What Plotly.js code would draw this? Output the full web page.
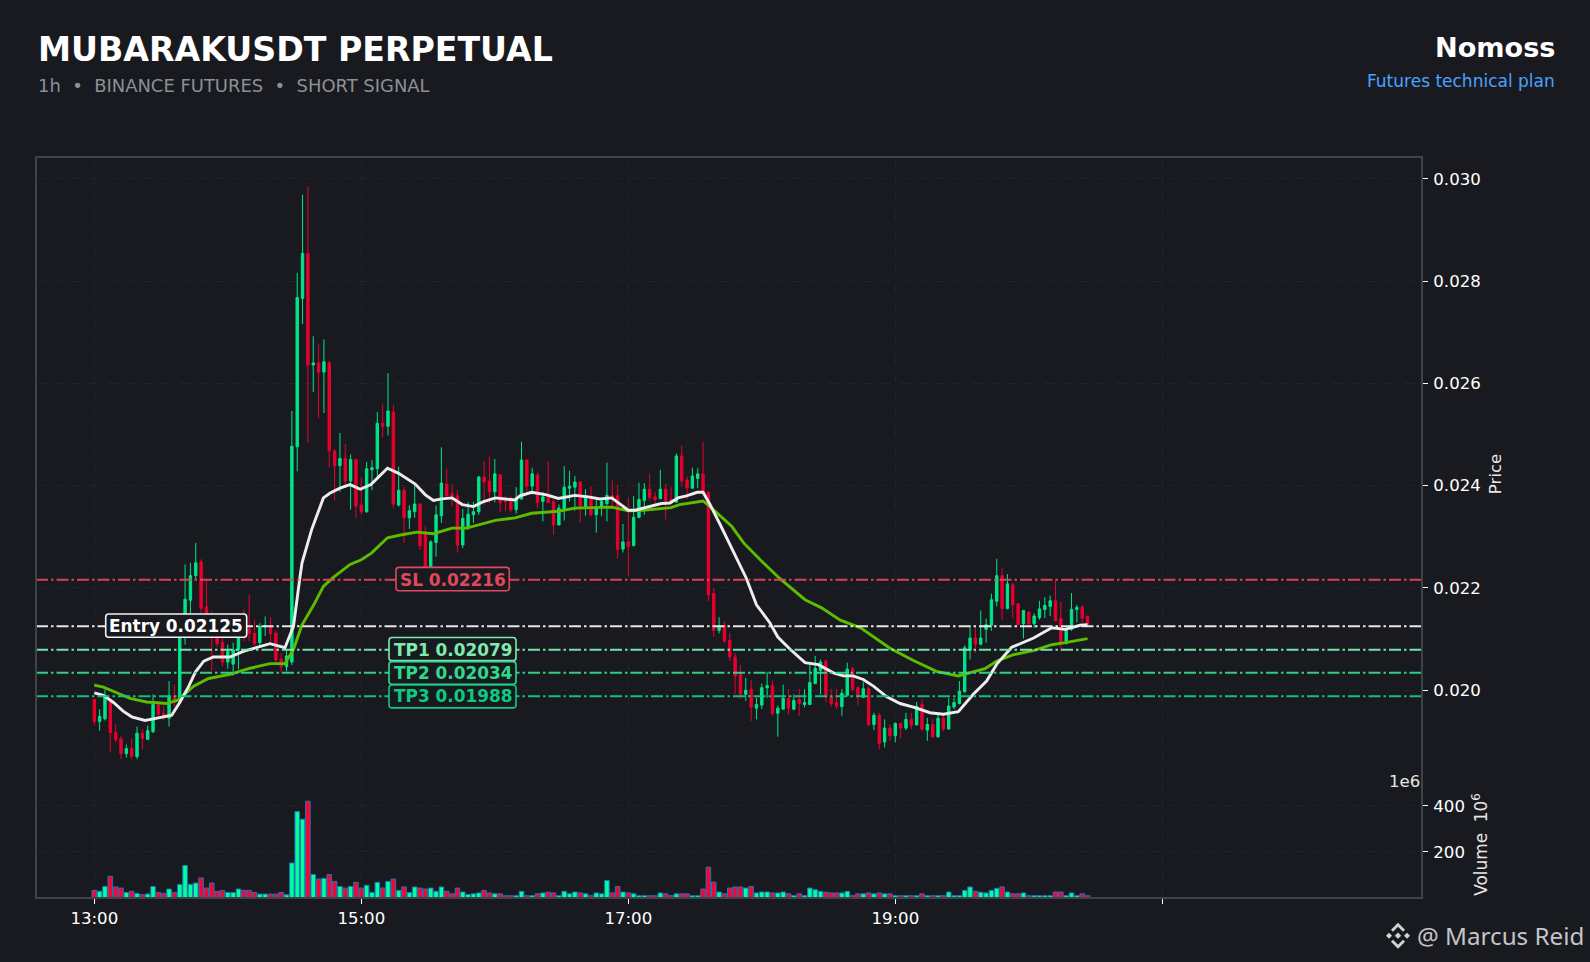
<!DOCTYPE html>
<html><head><meta charset="utf-8">
<script src="https://cdn.plot.ly/plotly-3.0.1.min.js"></script>
<style>html,body{margin:0;padding:0;background:#181A20}#c{width:1590px;height:962px}</style>
</head><body><div id="c"></div>
<script>
// prices in units of 1e-5 USDT, one value per bar
const open_=[1982,1939,1944,1980,1917,1905,1876,1886,1870,1916,1904,1919,1971,1955,1945,1989,1986,2112,2176,2224,2251,2163,2147,2108,2094,2055,2051,2079,2113,2120,2111,2093,2124,2124,2112,2061,2046,2055,2476,2766,2854,2636,2640,2622,2640,2468,2439,2453,2409,2451,2362,2349,2431,2433,2522,2516,2544,2362,2391,2337,2349,2364,2304,2238,2289,2341,2403,2384,2380,2284,2318,2343,2349,2417,2409,2388,2421,2372,2370,2353,2374,2450,2399,2421,2369,2378,2369,2323,2354,2395,2397,2407,2358,2378,2343,2358,2365,2380,2380,2276,2290,2283,2338,2371,2393,2378,2375,2393,2373,2368,2458,2411,2395,2414,2423,2387,2189,2117,2127,2097,2065,2031,1992,2002,1965,1971,2005,2009,1955,1963,1984,1963,1982,1972,1972,2013,2039,2056,1987,1976,1968,1990,2042,2005,1986,2003,1933,1951,1899,1926,1911,1935,1926,1943,1932,1972,1922,1933,1909,1945,1924,1967,1974,1997,2078,2102,2090,2119,2127,2174,2224,2160,2206,2169,2130,2153,2130,2142,2158,2164,2175,2140,2091,2119,2158,2162,2145];
const high=[1982,1963,2001,1985,1934,1911,1894,1906,1929,1924,1931,1992,1976,1970,2018,2011,2127,2246,2249,2288,2256,2216,2154,2118,2103,2089,2093,2118,2158,2186,2138,2131,2144,2143,2116,2073,2079,2546,2816,2969,2985,2692,2676,2686,2644,2471,2503,2481,2461,2452,2417,2446,2450,2544,2559,2620,2558,2437,2397,2362,2401,2366,2321,2293,2361,2475,2433,2403,2391,2354,2368,2368,2418,2448,2457,2452,2423,2379,2379,2397,2486,2452,2435,2426,2388,2448,2373,2363,2438,2429,2419,2409,2393,2399,2374,2376,2445,2410,2401,2325,2378,2380,2406,2405,2423,2388,2431,2403,2397,2463,2478,2418,2435,2434,2486,2389,2200,2143,2134,2112,2073,2049,2024,2020,1985,2013,2036,2019,1970,2011,2002,1992,2002,2002,2050,2067,2060,2060,2003,2002,2002,2054,2046,2008,2016,2008,1956,1956,1943,1933,1937,1937,1956,1956,1977,1982,1946,1943,1956,1956,1985,1985,2018,2088,2127,2124,2156,2140,2189,2257,2239,2227,2210,2169,2156,2154,2150,2175,2182,2185,2215,2173,2122,2190,2167,2167,2145];
const low=[1931,1921,1941,1879,1898,1865,1868,1865,1865,1884,1904,1916,1947,1941,1929,1968,1980,2089,2151,2216,2125,2113,2038,2085,2046,2042,2028,2041,2096,2096,2086,2086,2106,2093,2054,2033,2037,2049,2428,2716,2484,2583,2532,2542,2436,2371,2388,2401,2353,2336,2343,2347,2391,2411,2494,2498,2356,2359,2288,2315,2337,2274,2226,2231,2261,2327,2376,2360,2269,2278,2314,2327,2343,2362,2366,2367,2349,2350,2349,2345,2372,2388,2383,2356,2330,2366,2304,2323,2332,2369,2351,2328,2341,2340,2308,2341,2330,2358,2258,2269,2224,2281,2336,2343,2371,2363,2373,2334,2363,2366,2398,2373,2395,2395,2383,2174,2104,2111,2093,2057,1992,1983,1979,1940,1943,1963,1985,1950,1909,1963,1953,1961,1950,1966,1971,2013,1992,1977,1968,1963,1950,1990,1998,1970,1986,1931,1922,1885,1888,1901,1898,1906,1922,1924,1932,1920,1901,1907,1907,1920,1924,1963,1972,1995,2060,2073,2088,2093,2116,2164,2137,2158,2141,2127,2101,2122,2122,2138,2141,2145,2135,2076,2090,2116,2133,2132,2124];
const close_=[1939,1949,1989,1917,1904,1876,1886,1871,1916,1906,1921,1972,1953,1947,1989,1976,2118,2178,2224,2249,2160,2147,2108,2091,2055,2076,2079,2106,2108,2111,2091,2125,2126,2111,2059,2046,2067,2477,2768,2854,2636,2640,2622,2642,2468,2439,2453,2409,2451,2360,2349,2433,2435,2522,2516,2546,2364,2391,2337,2351,2364,2282,2232,2290,2343,2405,2380,2379,2284,2336,2344,2349,2417,2407,2388,2423,2367,2369,2353,2376,2450,2399,2423,2367,2378,2367,2323,2356,2397,2399,2407,2358,2378,2343,2358,2369,2381,2373,2275,2290,2281,2338,2373,2393,2377,2373,2393,2371,2366,2458,2409,2396,2419,2423,2386,2186,2117,2125,2096,2065,2028,1992,2000,1967,1972,2005,2009,1955,1965,1984,1965,1980,1974,1976,2015,2043,2055,1987,1974,1969,1994,2041,2002,1989,2003,1932,1951,1896,1926,1911,1935,1926,1943,1932,1969,1924,1933,1909,1945,1924,1969,1976,1998,2083,2102,2090,2102,2128,2177,2224,2160,2208,2167,2128,2156,2130,2145,2159,2166,2175,2136,2093,2119,2158,2162,2141,2128];
// traded volume, millions
const volume=[33,29,50,94,48,43,24,29,20,14,17,50,24,20,39,24,59,141,59,65,87,43,65,29,33,24,24,39,33,33,24,17,17,17,17,24,14,152,375,342,420,102,82,85,102,72,50,43,50,68,43,55,24,68,43,72,82,33,48,24,48,43,39,43,29,48,29,18,43,26,15,18,22,33,22,18,18,10,10,10,29,10,10,18,22,25,22,10,29,18,26,22,18,10,22,18,76,22,50,26,22,18,10,10,10,10,22,18,10,18,18,18,10,10,39,134,69,26,18,43,48,48,43,50,22,26,26,22,22,26,18,10,18,10,43,36,29,25,22,22,22,29,10,18,18,22,18,22,18,18,10,10,10,10,10,18,10,10,10,10,26,10,10,33,48,29,25,22,33,42,48,26,18,18,22,10,10,10,10,10,26,26,10,22,10,18,10];
// moving averages read at nodes: bar position, price (1e-5)
const whiteX=[0,1.7,3.6,5.4,7,9.5,12,14.5,16,17.7,18.9,20.5,22.3,25.4,27.9,30.4,32.9,35.7,37.3,38.5,38.9,40.7,42.9,44.1,46,47.9,49.8,51.8,54.9,57,60.1,62,63.5,65.1,67,68.9,71,72.9,75.1,78.8,79.7,81.9,84.7,86.9,90,92.5,94.7,96.9,100,101.3,104,106.2,107.8,109.3,110.9,112.9,114,115.3,117.2,119.4,122.1,124,126.5,128,130.3,133.1,135.6,138.4,140.3,142.1,144,145.9,148.4,150.9,153.4,156.5,159,161.8,164.6,167.1,169,171.8,175.9,179.3,181.8,184.6,186];
const whiteY=[1995,1990,1976,1959,1948,1941,1946,1951,1976,2008,2035,2057,2065,2065,2076,2083,2091,2083,2125,2220,2249,2314,2376,2385,2395,2402,2393,2402,2434,2424,2403,2382,2371,2374,2376,2363,2359,2369,2376,2372,2380,2387,2382,2375,2381,2378,2374,2376,2352,2352,2359,2365,2366,2376,2380,2387,2387,2363,2324,2278,2219,2167,2132,2104,2080,2054,2050,2034,2028,2028,2021,2008,1987,1974,1967,1956,1953,1958,1992,2018,2051,2084,2102,2122,2119,2127,2128];
const greenX=[0,1.7,4.2,6.7,9.8,13.6,15.7,18.6,21.4,25.4,29.2,32.9,35.7,37.3,38.9,41.1,42.9,44.7,47.9,50,51.9,54.9,57.6,60.4,63.5,67,69.7,75.1,78.8,81.9,86.9,90,96.9,100,102.8,108,109.6,114,115.3,119.4,121.6,124.7,128.4,133.1,136.2,139.7,143.5,146.2,149,153.4,157.7,161.8,164,166.8,169,172,176,179.3,181.8,186];
const greenY=[2010,2006,1995,1984,1977,1974,1981,2008,2023,2031,2043,2052,2052,2080,2128,2167,2203,2220,2246,2255,2268,2298,2304,2309,2306,2317,2317,2332,2337,2346,2350,2356,2358,2351,2352,2357,2363,2370,2359,2320,2288,2255,2218,2177,2161,2137,2122,2102,2082,2058,2037,2028,2034,2042,2057,2069,2078,2089,2093,2101];
const levelNames=['SL','Entry','TP1','TP2','TP3'];
const levelPrices=[0.02216,0.02125,0.02079,0.02034,0.01988];
const levelColors=['#E0485C','#F2F2F2','#7DEBAE','#2FD98C','#10C981'];
const tickBars=[0,50,100,150,200];
const tickLabels=['13:00','15:00','17:00','19:00','\u00A0'];

const BG='#181A20', UP='#00E588', DOWN='#E8002D', UPV='#00FF9D', DOWNV='#FF0033';
const L=36,R=1422,T=156.5,B=898.3;
const px=x=>(x-L)/(R-L), py=y=>(B-y)/(B-T);
const split=py(781);
const bars=open_.map((_,i)=>i);
const toPrice=a=>a.map(v=>v/1e5);
const FONT='"DejaVu Sans", sans-serif';
const Y20=690.3, PERPX=1.953;

const traces=[
 {type:'candlestick',x:bars,open:toPrice(open_),high:toPrice(high),low:toPrice(low),close:toPrice(close_),
  xaxis:'x',yaxis:'y',hoverinfo:'skip',showlegend:false,whiskerwidth:0,
  increasing:{line:{color:UP,width:1},fillcolor:UP},decreasing:{line:{color:DOWN,width:1},fillcolor:DOWN}},
 {type:'bar',x:bars,y:volume,xaxis:'x',yaxis:'y2',width:0.85,hoverinfo:'skip',showlegend:false,
  marker:{color:bars.map(i=>close_[i]>=open_[i]?UPV:DOWNV),line:{color:'#1F77B4',width:1}}},
 {type:'scatter',mode:'lines',x:greenX,y:toPrice(greenY),xaxis:'x',yaxis:'y',hoverinfo:'skip',showlegend:false,line:{color:'#5CBD00',width:2.9}},
 {type:'scatter',mode:'lines',x:whiteX,y:toPrice(whiteY),xaxis:'x',yaxis:'y',hoverinfo:'skip',showlegend:false,line:{color:'#EDEDED',width:2.9}}
];

const shapes=levelPrices.map((p,i)=>({type:'line',xref:'paper',yref:'y',x0:0,x1:1,y0:p,y1:p,
  line:{color:levelColors[i],width:2,dash:'12px,3px,2.5px,3px'},opacity:0.95}));
shapes.push({type:'rect',xref:'paper',yref:'paper',x0:0,x1:1,y0:0,y1:1,line:{color:'#3E434B',width:2},fillcolor:'rgba(0,0,0,0)'});
// logo
const dia=(cx,cy,r)=>({type:'path',xref:'paper',yref:'paper',fillcolor:'#D2D3D5',line:{width:0},
  path:`M${px(cx-r)},${py(cy)}L${px(cx)},${py(cy-r)}L${px(cx+r)},${py(cy)}L${px(cx)},${py(cy+r)}Z`});
[[1398,936,3.2],[1389,936,3],[1407,936,3]].forEach(d=>shapes.push(dia(...d)));
const chev=(up)=>{const s=up?-1:1,cx=1398,cy=936;
  return {type:'path',xref:'paper',yref:'paper',fillcolor:'#D2D3D5',line:{width:0},
  path:`M${px(cx-7)},${py(cy+s*6)}L${px(cx)},${py(cy+s*13)}L${px(cx+7)},${py(cy+s*6)}L${px(cx+5)},${py(cy+s*4)}L${px(cx)},${py(cy+s*9)}L${px(cx-5)},${py(cy+s*4)}Z`};};
shapes.push(chev(true),chev(false));
// rounded label boxes
const boxes=[[396,509.3,567.3,590.7],[105.7,246.7,614,637.3],[389,516,637.5,660.7],[389,516,661.7,684.3],[389,516,685,708]];
const rr=(b,c)=>{const [x0,x1,y0,y1]=b,r=3;
  return {type:'path',xref:'paper',yref:'paper',fillcolor:BG,line:{color:c,width:1.6},
   path:`M${px(x0+r)},${py(y0)}L${px(x1-r)},${py(y0)}Q${px(x1)},${py(y0)} ${px(x1)},${py(y0+r)}L${px(x1)},${py(y1-r)}Q${px(x1)},${py(y1)} ${px(x1-r)},${py(y1)}L${px(x0+r)},${py(y1)}Q${px(x0)},${py(y1)} ${px(x0)},${py(y1-r)}L${px(x0)},${py(y0+r)}Q${px(x0)},${py(y0)} ${px(x0+r)},${py(y0)}Z`};};
boxes.forEach((b,i)=>shapes.push(rr(b,levelColors[i])));

const txt=(text,x,y,size,color,anchor,extra)=>Object.assign({text,xref:'paper',yref:'paper',x:px(x),y:py(y),xanchor:anchor,yanchor:'middle',showarrow:false,font:{family:FONT,size,color}},extra||{});
const boxX=[67.1,15.3,67.1,67.1,67.1];
const annotations=[
 txt('<b>MUBARAKUSDT PERPETUAL</b>',36,48.5,33.2,'#FFFFFF','left'),
 txt('1h \u00A0•\u00A0 BINANCE FUTURES \u00A0•\u00A0 SHORT SIGNAL',36,85,17.95,'#8E9096','left'),
 txt('<b>Nomoss</b>',1557,46.5,27.1,'#FFFFFF','right'),
 txt('Futures technical plan',1557,80,17,'#4AA3FF','right'),
 txt('1e6',1422,781.5,16.6,'#E6E6E6','right'),
 txt('Price',1495,474,16.6,'#E6E6E6','center',{textangle:-90}),
 txt('Volume  10<sup>6</sup>',1480,845,16.9,'#E6E6E6','center',{textangle:-90}),
 txt('@ Marcus Reid',1415,936,24.2,'#C4C5C7','left',{font:{family:'"Noto Sans", sans-serif',size:24.2,color:'#C4C5C7'}})
];
levelNames.forEach((n,i)=>annotations.push({
  text:'<b>'+n+' '+levelPrices[i].toFixed(5)+'</b>',xref:'x',yref:'y',x:boxX[i],y:levelPrices[i],xanchor:'center',yanchor:'middle',showarrow:false,
  font:{family:FONT,size:16.9,color:i==1?'#FFFFFF':levelColors[i]}
}));

const tickF={size:16.6,color:'#FFFFFF'};
const layout={
 width:1590,height:962,paper_bgcolor:BG,plot_bgcolor:BG,showlegend:false,
 margin:{l:L,r:1590-R,t:T,b:962-B,pad:0},bargap:0.1,boxgap:0.36,
 font:{family:FONT,color:'#FFFFFF',size:16},
 xaxis:{range:[(L-94.3)/5.34,(R-94.3)/5.34],anchor:'y2',rangeslider:{visible:false},tickmode:'array',tickvals:tickBars,ticktext:tickLabels,
   showgrid:true,gridcolor:'#212329',griddash:'dash',gridwidth:1,ticks:'outside',ticklen:5,tickcolor:'#FFFFFF',tickfont:tickF,zeroline:false,showline:false},
 yaxis:{domain:[split,1],range:[(2000-(781-Y20)*PERPX)/1e5,(2000+(Y20-T)*PERPX)/1e5],side:'right',anchor:'x',tickmode:'array',
   tickvals:[0.020,0.022,0.024,0.026,0.028,0.030],ticktext:['0.020','0.022','0.024','0.026','0.028','0.030'],ticklabelstandoff:2,
   showgrid:true,gridcolor:'#212329',griddash:'dash',ticks:'outside',ticklen:5,tickcolor:'#FFFFFF',tickfont:tickF,zeroline:false,showline:false},
 yaxis2:{domain:[0,split],range:[0,(B-781)/46.15*200],side:'right',anchor:'x',tickmode:'array',tickvals:[200,400],ticktext:['200','400'],ticklabelstandoff:2,
   showgrid:true,gridcolor:'#212329',griddash:'dash',ticks:'outside',ticklen:5,tickcolor:'#FFFFFF',tickfont:tickF,zeroline:false,showline:false},
 shapes,annotations
};
Plotly.newPlot('c',traces,layout,{displayModeBar:false,staticPlot:true});
</script></body></html>
